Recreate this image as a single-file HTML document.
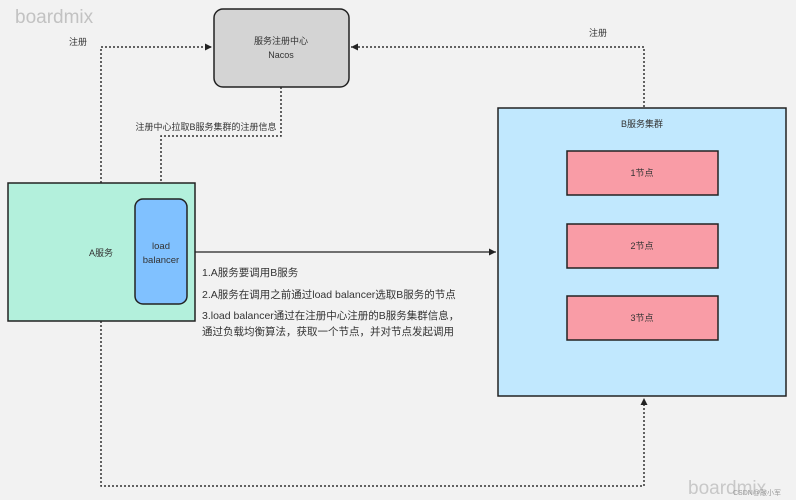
<!DOCTYPE html>
<html><head><meta charset="utf-8"><style>
html,body{margin:0;padding:0;background:#f2f2f2;}
svg{display:block;font-family:"Liberation Sans","Noto Sans CJK SC",sans-serif;}
</style></head><body>
<svg width="796" height="500" viewBox="0 0 796 500" xmlns="http://www.w3.org/2000/svg">
<defs>
<marker id="ah" markerWidth="8" markerHeight="8" refX="7" refY="4" orient="auto" markerUnits="userSpaceOnUse">
<path d="M0,0.5 L7,4 L0,7.5 z" fill="#222"/></marker>
</defs>
<rect width="796" height="500" fill="#f2f2f2"/>
<text x="15" y="23" font-size="19" fill="#c2c2c2">boardmix</text>
<text x="688" y="494" font-size="19" fill="#c8c8c8">boardmix</text>
<text x="733" y="495" font-size="7" fill="#999">CSDN@敲小军</text>

<g fill="none" stroke="#333" stroke-width="1.5" stroke-dasharray="2,2">
<path d="M101,183 V47 H212" marker-end="url(#ah)"/>
<path d="M644,107 V47 H351" marker-end="url(#ah)"/>
<path d="M281,87 V136 H161 V197" marker-end="url(#ah)"/>
<path d="M101,321 V486 H644 V398" marker-end="url(#ah)"/>
</g>
<path d="M187,252 H496" stroke="#222" stroke-width="1.2" fill="none" marker-end="url(#ah)"/>

<text x="78" y="45" font-size="9" fill="#333" text-anchor="middle">注册</text>
<text x="598" y="36" font-size="9" fill="#333" text-anchor="middle">注册</text>
<text x="206" y="130" font-size="9" fill="#333" text-anchor="middle">注册中心拉取B服务集群的注册信息</text>

<rect x="214" y="9" width="135" height="78" rx="9" fill="#d4d4d4" stroke="#222" stroke-width="1.5"/>
<text x="281" y="44" font-size="9" fill="#333" text-anchor="middle">服务注册中心</text>
<text x="281" y="58" font-size="9" fill="#333" text-anchor="middle">Nacos</text>

<rect x="8" y="183" width="187" height="138" fill="#b3f0dc" stroke="#222" stroke-width="1.5"/>
<text x="101" y="256" font-size="9" fill="#333" text-anchor="middle">A服务</text>
<rect x="135" y="199" width="52" height="105" rx="8" fill="#80c1ff" stroke="#222" stroke-width="1.5"/>
<text x="161" y="249" font-size="9.5" fill="#333" text-anchor="middle">load</text>
<text x="161" y="263" font-size="9.5" fill="#333" text-anchor="middle">balancer</text>

<g font-size="10.5" fill="#333">
<text x="202" y="276">1.A服务要调用B服务</text>
<text x="202" y="298">2.A服务在调用之前通过load balancer选取B服务的节点</text>
<text x="202" y="319">3.load balancer通过在注册中心注册的B服务集群信息，</text>
<text x="202" y="335">通过负载均衡算法，获取一个节点，并对节点发起调用</text>
</g>

<rect x="498" y="108" width="288" height="288" fill="#c1e8fe" stroke="#222" stroke-width="1.5"/>
<text x="642" y="127" font-size="9" fill="#333" text-anchor="middle">B服务集群</text>
<g fill="#f99ca6" stroke="#222" stroke-width="1.5">
<rect x="567" y="151" width="151" height="44"/>
<rect x="567" y="224" width="151" height="44"/>
<rect x="567" y="296" width="151" height="44"/>
</g>
<g font-size="9" fill="#333" text-anchor="middle">
<text x="642" y="176">1节点</text>
<text x="642" y="249">2节点</text>
<text x="642" y="321">3节点</text>
</g>
</svg>
</body></html>
